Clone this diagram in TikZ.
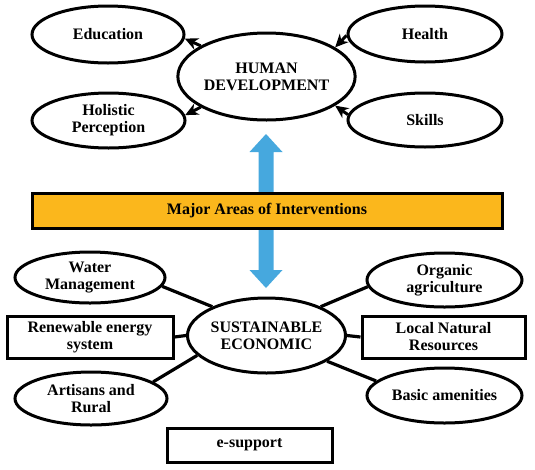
\documentclass[tikz,border=0pt]{standalone}
\usepackage{fontspec}
\setmainfont{Liberation Serif}
\usetikzlibrary{shapes.geometric,arrows.meta}
\definecolor{barorange}{RGB}{251,183,28}
\definecolor{arrowblue}{RGB}{70,168,222}
\tikzset{
  lbl/.style={font=\fontsize{16}{17}\selectfont\bfseries, align=center, text=black},
  oval/.style={lbl, ellipse, draw=black, line width=3pt, inner sep=0pt},
  rbox/.style={lbl, rectangle, draw=black, line width=3pt, inner sep=0pt},
  link/.style={line width=3.2pt, black},
  harrow/.style={line width=3pt, black, -{Stealth[length=13pt,width=12pt,inset=4pt]}}
}
\begin{document}
\begin{tikzpicture}[x=1pt,y=-1pt]
\useasboundingbox (0,0) rectangle (535,469);
% blue double arrow
\fill[arrowblue] (258.5,152) -- (249.5,152) -- (266,134) -- (282.5,152) -- (273.5,152)
  -- (273.5,270) -- (282.5,270) -- (266,288) -- (249.5,270) -- (258.5,270) -- cycle;
% orange bar
\node[rbox, fill=barorange, minimum width=470pt, minimum height=35pt] (bar) at (267,210.5) {Major Areas of Interventions};
% top group
\node[oval, minimum width=153pt, minimum height=87pt] (hd) at (266.5,76.5) {HUMAN\\DEVELOPMENT};
\node[oval, minimum width=152pt, minimum height=57pt] (edu) at (108,34.5) {Education};
\node[oval, minimum width=153pt, minimum height=55pt] (hol) at (108.5,120.5) {Holistic\\Perception};
\node[oval, minimum width=154pt, minimum height=56pt] (hea) at (425,34) {Health};
\node[oval, minimum width=154pt, minimum height=54pt] (ski) at (425,120) {Skills};
\draw[harrow] (hd.155) -- (edu.-3);
\draw[harrow] (hd.205) -- (hol.4);
\draw[harrow] (hea.181) -- (hd.23);
\draw[harrow] (ski.176) -- (hd.-23);
% bottom group
\node[oval, minimum width=153pt, minimum height=75pt] (sus) at (266.5,335.5) {SUSTAINABLE\\ECONOMIC};
\node[oval, minimum width=150pt, minimum height=51pt] (wat) at (90,277.5) {Water\\Management};
\node[rbox, minimum width=166pt, minimum height=42pt] (ren) at (90,337) {Renewable energy\\system};
\node[oval, minimum width=152pt, minimum height=53pt] (art) at (91,398.5) {Artisans and\\Rural};
\node[oval, minimum width=155pt, minimum height=54pt] (org) at (444.5,280) {Organic\\agriculture};
\node[rbox, minimum width=163pt, minimum height=42pt] (loc) at (443.5,337) {Local Natural\\Resources};
\node[oval, minimum width=155pt, minimum height=55pt] (bas) at (444.5,395.5) {Basic amenities};
\node[rbox, minimum width=165pt, minimum height=34pt] (esu) at (249.5,445) {e-support};
\draw[link] (wat.-7) -- (sus.152);
\draw[link] (ren.east) -- (sus.west);
\draw[link] (art.15) -- (sus.196);
\draw[link] (sus.28) -- (org.185);
\draw[link] (sus.east) -- (loc.west);
\draw[link] (sus.-23) -- (bas.168);
\end{tikzpicture}
\end{document}
